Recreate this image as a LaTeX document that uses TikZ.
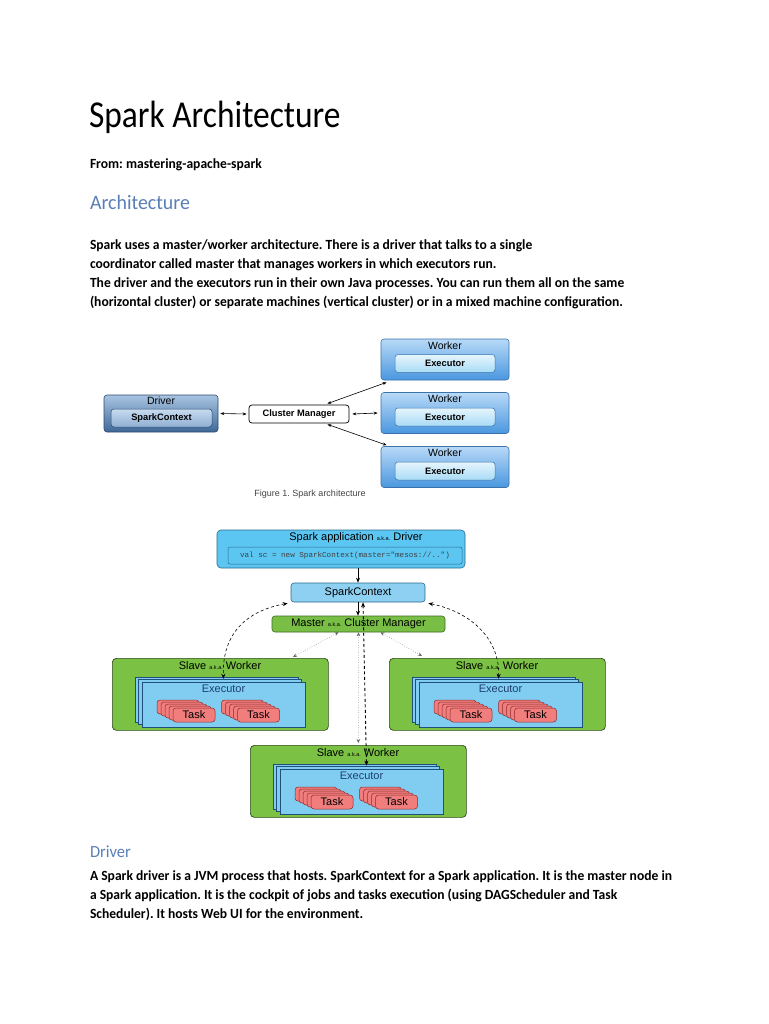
\documentclass[tikz,border=0pt]{standalone}
\usepackage{fontspec}
\setmainfont{Carlito}[FakeStretch=0.97]
\newfontfamily\titlef{Carlito}[FakeStretch=0.88]
\newfontfamily\arialf{Liberation Sans}
\newfontfamily\monof{Liberation Mono}
\usetikzlibrary{arrows.meta,calc}
\frenchspacing
\definecolor{headblue}{HTML}{5A7FB8}
\definecolor{capgray}{HTML}{444444}
\definecolor{fdrvtop}{HTML}{A9C4E2}
\definecolor{fdrvbot}{HTML}{3E6898}
\definecolor{fdrvln}{HTML}{2C4A6E}
\definecolor{fsctop}{HTML}{C8DBEF}
\definecolor{fscbot}{HTML}{8FAFD3}
\definecolor{fwktop}{HTML}{B8D9F7}
\definecolor{fwkbot}{HTML}{4A97DF}
\definecolor{fwkln}{HTML}{3A73AC}
\definecolor{fextop}{HTML}{E6F5FD}
\definecolor{fexbot}{HTML}{A8DBF6}
\definecolor{sdrv}{HTML}{5CC6F2}
\definecolor{sdrvln}{HTML}{2B6A8C}
\definecolor{ssc}{HTML}{8DD0F2}
\definecolor{smaster}{HTML}{79BF45}
\definecolor{smasterln}{HTML}{3E6B22}
\definecolor{swk}{HTML}{7BC143}
\definecolor{swkln}{HTML}{2E4A1A}
\definecolor{sex}{HTML}{80CDF1}
\definecolor{sexln}{HTML}{1F4F7A}
\definecolor{sextxt}{HTML}{1E3F6E}
\definecolor{stask}{HTML}{F17D7D}
\definecolor{staskln}{HTML}{8A2C2C}
\tikzset{
  txt/.style={inner sep=0pt, outer sep=0pt, anchor=base west},
  body/.style={txt, font=\fontsize{14}{16}\selectfont\bfseries},
  fone/.style={inner sep=0pt, font=\arialf\fontsize{10.5}{12}\selectfont},
  fonebold/.style={inner sep=0pt, font=\arialf\bfseries\fontsize{9.3}{10}\selectfont},
  fdrv/.style={draw=fdrvln, rounded corners=3pt, top color=fdrvtop, bottom color=fdrvbot, line width=0.6pt},
  fsc/.style={draw=fdrvln, rounded corners=3pt, top color=fsctop, bottom color=fscbot, line width=0.5pt},
  fcm/.style={draw=black, fill=white, rounded corners=3pt, line width=0.7pt},
  fwk/.style={draw=fwkln, rounded corners=3pt, top color=fwktop, bottom color=fwkbot, line width=0.6pt},
  fex/.style={draw=fwkln, rounded corners=3pt, top color=fextop, bottom color=fexbot, line width=0.5pt},
  farr/.style={{Stealth[length=4pt,width=3pt]}-{Stealth[length=4pt,width=3pt]}, line width=0.6pt},
  stxt/.style={inner sep=0pt, font=\arialf\fontsize{11}{12}\selectfont},
  aka/.style={font=\fontsize{5.5}{6}\selectfont},
  sdrvbox/.style={draw=sdrvln, fill=sdrv, rounded corners=4pt, line width=0.6pt},
  scodebox/.style={draw=sdrvln, fill=sdrv, rounded corners=2pt, line width=0.5pt},
  sscbox/.style={draw=sdrvln, fill=ssc, rounded corners=3pt, line width=0.6pt},
  smbox/.style={draw=smasterln, fill=smaster, rounded corners=3pt, line width=0.6pt},
  swkbox/.style={draw=swkln, fill=swk, rounded corners=4pt, line width=0.7pt},
  sexbox/.style={draw=sexln, fill=sex, line width=0.5pt},
  staskbox/.style={draw=staskln, fill=stask, rounded corners=3pt, line width=0.5pt},
  sarr/.style={-{Stealth[length=5pt,width=4pt]}, line width=0.7pt},
  sdarr/.style={{Stealth[length=5pt,width=4pt]}-{Stealth[length=5pt,width=4pt]}, line width=0.6pt, dash pattern=on 3pt off 2.5pt},
  sdotarr/.style={{Stealth[length=4pt,width=3.5pt]}-{Stealth[length=4pt,width=3.5pt]}, line width=0.5pt, draw=gray!80!black, dotted},
}
\newcommand\sparkworker[3]{%
  \begin{scope}[shift={(#2,#3)}]
    \node[swkbox, minimum width=216, minimum height=72, anchor=north west] (#1) at (0,0) {};
    \node[stxt] (#1l) at (108,8) {Slave {\fontsize{5.5}{6}\selectfont a.k.a.} Worker};
    \node[sexbox, minimum width=163, minimum height=45] (#1b2) at (104.5,41.5) {};
    \node[sexbox, minimum width=163, minimum height=45] (#1b1) at (108,44) {};
    \node[sexbox, minimum width=163, minimum height=45] (#1ex) at (111.5,46.5) {};
    \node[stxt, text=sextxt] (#1exl) at (111.5,31) {Executor};
    \foreach \k in {4,3,2,1} {
      \node[staskbox, minimum width=42, minimum height=14] at (82-4*\k,57-2*\k) {};
      \node[staskbox, minimum width=42, minimum height=14] at (146.5-4*\k,57-2*\k) {};
    }
    \node[staskbox, stxt, minimum width=42, minimum height=14] (#1t1) at (82,57) {Task};
    \node[staskbox, stxt, minimum width=42, minimum height=14] (#1t2) at (146.5,57) {Task};
  \end{scope}}
\begin{document}
\begin{tikzpicture}[x=1pt,y=-1pt]
\useasboundingbox (0,0) rectangle (768,1024);
\fill[white] (0,0) rectangle (768,1024);
% ---------- text -----------
\node[txt, font=\titlef\fontsize{38}{40}\selectfont] (title) at (89,127.5) {Spark Architecture};
\node[body] (from) at (90,169) {From: mastering-apache-spark};
\node[txt, text=headblue, font=\fontsize{20.5}{22}\selectfont] (arch) at (90,209.5) {Architecture};
\node[body] (p1) at (90,249) {Spark uses a master/worker architecture. There is a driver that talks to a single};
\node[body] (p2) at (90,268) {coordinator called master that manages workers in which executors run.};
\node[body] (p3) at (90,287) {The driver and the executors run in their own Java processes. You can run them all on the same};
\node[body] (p4) at (90,306) {(horizontal cluster) or separate machines (vertical cluster) or in a mixed machine configuration.};
\node[txt, text=headblue, font=\fontsize{17}{19}\selectfont] (drvh) at (90,857) {Driver};
\node[body] (q1) at (90,880) {A Spark driver is a JVM process that hosts. SparkContext for a Spark application. It is the master node in};
\node[body] (q2) at (90,899) {a Spark application. It is the cockpit of jobs and tasks execution (using DAGScheduler and Task};
\node[body] (q3) at (90,918) {Scheduler). It hosts Web UI for the environment.};
% ---------- figure 1 -----------
\node[fdrv, minimum width=114, minimum height=37] (d1) at (161,413.5) {};
\node[fone] (d1l) at (161,401) {Driver};
\node[fsc, minimum width=101, minimum height=18, fonebold] (d1sc) at (161.5,418) {SparkContext};
\node[fcm, minimum width=100, minimum height=18, fonebold] (cm) at (299,414) {Cluster Manager};
\foreach \n/\y in {w1/359.5, w2/413, w3/467} {
  \node[fwk, minimum width=128, minimum height=41] (\n) at (445,\y) {};
  \node[fone] (\n l) at (445,\y-14) {Worker};
  \node[fex, minimum width=100, minimum height=18, fonebold] (\n ex) at (445,\y+4) {Executor};
}
\draw[farr] ([xshift=2pt]d1.east) -- ([xshift=-2pt]cm.west);
\draw[farr] ([xshift=3pt]cm.east) -- ([xshift=-3pt]w2.west);
\draw[farr] ([xshift=-22pt,yshift=1pt]cm.north east) -- ([xshift=6pt,yshift=-2pt]w1.south west);
\draw[farr] ([xshift=-22pt,yshift=-1pt]cm.south east) -- ([xshift=6pt,yshift=1pt]w3.north west);
\node[inner sep=0pt, text=capgray, font=\arialf\fontsize{9}{10}\selectfont] (cap1) at (310,494) {Figure 1. Spark architecture};
% ---------- figure 2 -----------
\node[sdrvbox, minimum width=248, minimum height=38] (drv) at (341,549) {};
\node[stxt] (drvl) at (356,537.5) {Spark application {\fontsize{5.5}{6}\selectfont a.k.a.} Driver};
\node[scodebox, minimum width=234, minimum height=17, inner sep=0pt, font=\monof\fontsize{7.6}{8}\selectfont, text=black!75] (code) at (345,555.5) {val sc = new SparkContext(master="mesos://..")};
\node[sscbox, minimum width=134, minimum height=19, stxt] (sc) at (358,592.5) {SparkContext};
\node[smbox, minimum width=173, minimum height=16, stxt] (master) at (358.5,624) {Master {\fontsize{5.5}{6}\selectfont a.k.a.} Cluster Manager};
\sparkworker{lw}{112}{658}
\sparkworker{rw}{389}{658}
\sparkworker{bw}{250}{745}
\draw[sarr] (sc.north |- drv.south) -- (sc.north);
\draw[sarr] (sc.south) -- (sc.south |- master.north);
\draw[sdotarr] ([xshift=-20pt]master.south) -- ([xshift=181pt,yshift=1pt]lw.north west);
\draw[sdotarr] ([xshift=22pt]master.south) -- ([xshift=33pt,yshift=2pt]rw.north west);
\draw[sdotarr] (master.south) -- ([yshift=2pt]bw.north);
\draw[sdarr, line width=0.9pt] ([xshift=5pt]sc.south) -- ([xshift=5pt,yshift=3pt]bwex.north);
\draw[sdarr] ([xshift=-3pt,yshift=-1pt]sc.south west) .. controls (240,612) and (222,640) .. ([yshift=3pt]lwex.north);
\draw[sdarr] ([xshift=3pt,yshift=-1pt]sc.south east) .. controls (472,612) and (500,640) .. ([xshift=-2pt,yshift=3pt]rwex.north);
\end{tikzpicture}
\end{document}
